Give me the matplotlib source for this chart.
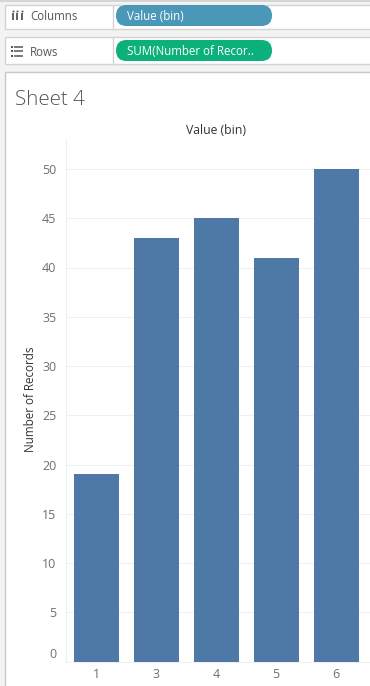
import matplotlib
matplotlib.use("Agg")
import matplotlib.pyplot as plt
from matplotlib.patches import FancyBboxPatch, Rectangle

categories = ["1", "3", "4", "5", "6"]
records = [19, 43, 45, 41, 50]
y_ticks = [0, 5, 10, 15, 20, 25, 30, 35, 40, 45, 50]

W, H = 370, 686
plt.rcParams['font.family'] = ['Open Sans', 'DejaVu Sans']
fig = plt.figure(figsize=(W/100, H/100), dpi=100, facecolor='#f3f3f3')

# UI overlay in pixel coordinates
ui = fig.add_axes([0, 0, 1, 1], zorder=0)
ui.set_xlim(0, W); ui.set_ylim(H, 0); ui.axis('off')
ui.add_patch(Rectangle((0, 0), W, 2, fc='#d4d4d4', ec='none'))
for top, bottom in [(5, 29), (37, 64)]:
    ui.add_patch(Rectangle((4.5, top), W, bottom-top, fc='white', ec='#d4d4d4', lw=1))
    ui.plot([113, 113], [top, bottom], color='#d4d4d4', lw=1)
ui.add_patch(Rectangle((4.5, 71.5), W, H, fc='white', ec='#c8c8c8', lw=1))

def pill(y0, y1, color, label):
    ui.add_patch(FancyBboxPatch((116, y0), 156, y1-y0,
                 boxstyle=f"round,pad=0,rounding_size={(y1-y0)/2}",
                 fc=color, ec='none', mutation_aspect=1))
    ui.text(127, (y0+y1)/2 + 1.3, label, color='white', fontsize=8.3, va='center', ha='left')

pill(5, 26, '#4a97b8', 'Value (bin)')
pill(40, 61, '#0bb07b', 'SUM(Number of Recor..')
ui.text(30, 17, 'Columns', color='#555555', fontsize=8.3, va='center')
ui.text(30, 52.5, 'Rows', color='#555555', fontsize=8.3, va='center')
for x in (12.5, 17, 21.5):
    ui.plot([x, x], [12.5, 20], color='#555555', lw=1.3, solid_capstyle='butt')
    ui.plot([x], [10.5], marker='s', ms=1.3, mew=0, color='#555555')
for y in (46.5, 51, 55.5):
    ui.plot([14, 23], [y, y], color='#555555', lw=1.1, solid_capstyle='butt')
    ui.plot([11.5], [y], marker='s', ms=1.6, mew=0, color='#555555')
ui.text(15, 100, 'Sheet 4', color='#555555', fontsize=14.8, va='center', fontweight='light')
ui.text(216, 130.5, 'Value (bin)', color='#333333', fontsize=8.8, va='center', ha='center')
ui.text(30, 399, 'Number of Records', color='#333333', fontsize=8.4, rotation=90, va='center', ha='center')

# Chart
left, right, top, base = 66, W, 140, 661.5
ax = fig.add_axes([left/W, 1-base/H, (right-left)/W, (base-top)/H], zorder=1)
ax.patch.set_alpha(0)
band = 60
xpos = list(range(len(categories)))
ax.bar(xpos, records, width=45/band, color='#4e79a7', zorder=3)
ax.set_xlim(-0.5, (right-left)/band-0.5)
ax.set_ylim(0, (base-top)/9.85)
ax.set_yticks(y_ticks)
ax.set_xticks(xpos, categories)
ax.grid(axis='y', color='#f0f0f0', lw=0.8, zorder=0)
for s in ('top', 'right'):
    ax.spines[s].set_visible(False)
ax.spines['left'].set_color('#e8f0f6'); ax.spines['left'].set_linewidth(0.8)
ax.spines['bottom'].set_color('#efefef'); ax.spines['bottom'].set_linewidth(0.8)
ax.tick_params(axis='y', length=0, pad=7, labelsize=9, labelcolor='#6e6e6e')
ax.tick_params(axis='x', length=0, pad=5, labelsize=9, labelcolor='#6e6e6e')
ax.get_yticklabels()[0].set_verticalalignment('bottom')

fig.savefig('out.png', dpi=100, facecolor=fig.get_facecolor())
